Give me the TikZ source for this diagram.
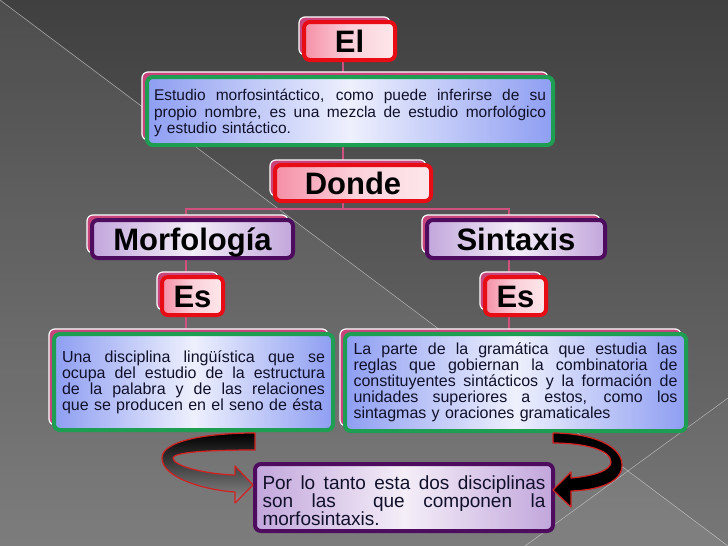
\documentclass[tikz,border=0pt]{standalone}
\usepackage{fontspec}
\setmainfont{Liberation Sans}
\usetikzlibrary{shadows}
\definecolor{bgtop}{HTML}{404040}
\definecolor{bgbot}{HTML}{737373}
\definecolor{conn}{HTML}{D0507E}
\definecolor{backpink}{HTML}{C8457C}
\definecolor{redb}{HTML}{E80C14}
\definecolor{pinkL}{HTML}{F58FA6}
\definecolor{pinkM}{HTML}{FBD0DA}
\definecolor{pinkR}{HTML}{FDE8EC}
\definecolor{greenb}{HTML}{1E9E52}
\definecolor{blueE}{HTML}{8E9EF2}
\definecolor{blueM}{HTML}{EEF0FD}
\definecolor{purpb}{HTML}{4E0C5E}
\definecolor{lilac}{HTML}{C2A6DC}
\definecolor{lilacM}{HTML}{F4EEF8}
\definecolor{txt}{HTML}{10102A}
\definecolor{arrowred}{HTML}{D42020}
\newcommand\jl[2]{{\spaceskip=0pt\xspaceskip=0pt\makebox[#1][s]{#2}}}
\tikzset{
  backlayer/.style={general shadow={shadow xshift=-5pt, shadow yshift=5pt, fill=backpink, draw=white, line width=1.2pt}},
  basebox/.style={rectangle, rounded corners=6pt, line width=4pt, inner sep=0pt},
  title/.style={font=\bfseries\fontsize{31}{31}\selectfont, text=black, text height=22.2pt, text depth=0pt},
  body/.style={font=\fontsize{16}{14.5}\selectfont, text=txt, align=left},
  redbox/.style={basebox, backlayer, title, draw=redb, left color=pinkL, right color=pinkR, middle color=pinkM},
  purpbox/.style={basebox, backlayer, title, draw=purpb, left color=lilac, right color=lilac, middle color=lilacM},
  greenbox/.style={basebox, backlayer, body, draw=greenb, left color=blueE, right color=blueE, middle color=blueM},
  finalbox/.style={basebox, draw=purpb, left color=lilac, right color=lilac, middle color=lilacM, font=\fontsize{19}{18}\selectfont, text=txt, align=left},
  conn/.style={draw=conn, line width=1.4pt},
  bgline/.style={draw=white!75!gray, line width=0.6pt, opacity=0.55},
  ribbon/.style={draw=arrowred, line width=1.2pt, line join=round}
}
\begin{document}
\begin{tikzpicture}[x=1pt,y=-1pt]
\useasboundingbox (0,0) rectangle (728,546);
% background
\fill[top color=bgtop, bottom color=bgbot] (0,0) rectangle (728,546);
\fill[white, opacity=0.07] (0,0) -- (728,546) -- (0,546) -- cycle;
\fill[white, opacity=0.03] (728,398) -- (525,546) -- (728,546) -- cycle;
\draw[bgline] (0,0) -- (728,546);
\draw[bgline] (728,398) -- (525,546);

% axes for connectors
\coordinate (axM) at (343,0);
\coordinate (axL) at (186,0);
\coordinate (axR) at (509,0);
\coordinate (hl) at (0,209);

% connectors (drawn first, behind the boxes)
\draw[conn] (axM |- 0,60) -- (axM |- 0,77);
\draw[conn] (axM |- 0,145) -- (axM |- 0,165);
\draw[conn] (axM |- 0,200) -- (axM |- hl);
\draw[conn] (axL |- 0,220) -- (axL |- hl) -- (axR |- hl) -- (axR |- 0,220);
\draw[conn] (axL |- 0,258) -- (axL |- 0,277);
\draw[conn] (axR |- 0,258) -- (axR |- 0,277);
\draw[conn] (axL |- 0,315) -- (axL |- 0,334);
\draw[conn] (axR |- 0,315) -- (axR |- 0,334);

% nodes
\node[redbox, minimum width=91pt, minimum height=38pt] (el) at (349.5,41) {El};
\node[greenbox, minimum width=406pt, minimum height=68pt, text width=392pt,
      font=\fontsize{15.5}{16.3}\selectfont, text height=11.3pt, text depth=31.9pt] (est) at (350,111)
  {\jl{392pt}{Estudio morfosintáctico, como puede inferirse de su}\\
   \jl{392pt}{propio nombre, es una mezcla de estudio morfológico}\\
   y estudio sintáctico.};
\node[redbox, minimum width=156pt, minimum height=36pt] (don) at (353,183) {Donde};
\node[purpbox, minimum width=201pt, minimum height=38pt] (morf) at (192.5,239) {Morfología};
\node[purpbox, minimum width=178pt, minimum height=38pt] (sint) at (516,239) {Sintaxis};
\node[redbox, minimum width=61pt, minimum height=38pt] (esl) at (192.5,296) {Es};
\node[redbox, minimum width=61pt, minimum height=38pt] (esr) at (515.5,296) {Es};
\node[greenbox, minimum width=279pt, minimum height=96pt, text width=263pt,
      text height=12pt, text depth=50.6pt] (lowl) at (193.5,382)
  {\jl{263pt}{Una disciplina lingüística que se}\\
   \jl{263pt}{ocupa del estudio de la estructura}\\
   \jl{263pt}{de la palabra y de las relaciones}\\
   que se producen en el seno de ésta};
\node[greenbox, minimum width=341pt, minimum height=97pt, text width=324pt,
      text height=12pt, text depth=68.4pt] (lowr) at (515.5,382.5)
  {\jl{324pt}{La parte de la gramática que estudia las}\\
   \jl{324pt}{reglas que gobiernan la combinatoria de}\\
   \jl{324pt}{constituyentes sintácticos y la formación de}\\
   \jl{324pt}{unidades superiores a estos, como los}\\
   sintagmas y oraciones gramaticales};
\node[finalbox, minimum width=298pt, minimum height=67pt, text width=283pt,
      text height=14pt, text depth=30pt] (fin) at (404,497.5)
  {\jl{283pt}{Por lo tanto esta dos disciplinas}\\
   \jl{283pt}{son las\ \ que componen la}\\
   morfosintaxis.};

% curved arrows
\path[ribbon, top color=black, bottom color=black!45]
  (255,433) .. controls (210,433) and (162,440) .. (162,458)
  .. controls (162,478) and (205,490) .. (235,492)
  -- (235,503) -- (253,485) -- (235,466) -- (235,475)
  .. controls (205,474) and (173,466) .. (173,458)
  .. controls (173,452) and (210,450) .. (255,450) -- cycle;
\path[ribbon, fill=black]
  (553,433) .. controls (590,433) and (622,445) .. (622,465)
  .. controls (622,482) and (600,490) .. (571,491)
  -- (571,507) -- (553,490) -- (571,472) -- (571,478)
  .. controls (595,476) and (611,470) .. (611,462)
  .. controls (611,450) and (585,443) .. (553,443) -- cycle;
\end{tikzpicture}
\end{document}
